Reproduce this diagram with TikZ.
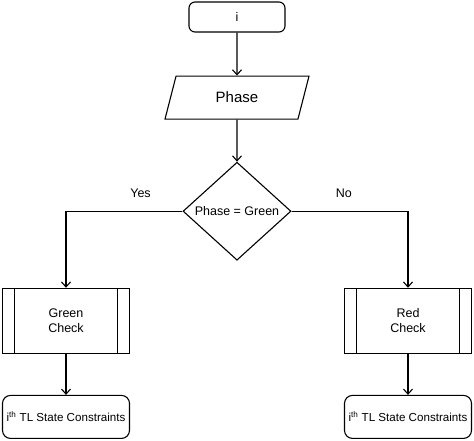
\documentclass[tikz,border=0pt]{standalone}
\usepackage{fontspec}
\setmainfont{Liberation Sans}
\usetikzlibrary{positioning,shapes.geometric,arrows.meta}

\begin{document}
\begin{tikzpicture}[
	font=\fontsize{12.5}{15}\selectfont,
	line width=1.1pt,
	startnode/.style={draw,rounded corners=6pt,minimum width=96pt,minimum height=30pt},
	ionode/.style={draw,trapezium,trapezium left angle=58,trapezium right angle=122,trapezium stretches body,minimum width=144pt,minimum height=43pt,font=\fontsize{15}{18}\selectfont},
	decnode/.style={draw,diamond,inner sep=0pt,minimum width=108pt,minimum height=98pt},
	procnode/.style={draw,minimum width=127pt,minimum height=65pt,align=center,
		path picture={\draw ([xshift=12pt]path picture bounding box.north west) -- ([xshift=12pt]path picture bounding box.south west)
			([xshift=-12pt]path picture bounding box.north east) -- ([xshift=-12pt]path picture bounding box.south east);}},
	endnode/.style={draw,rounded corners=8pt,minimum width=127pt,minimum height=43pt,font=\fontsize{11.6}{14}\selectfont}
	]
	\useasboundingbox (0,0) rectangle (474pt,-440pt);
	\node[startnode] (start) at (237pt,-17pt) {i};
	\node[ionode,below=43pt of start] (phase) {Phase};
	\node[decnode,below=42pt of phase] (decision) {Phase = Green};
	\node[procnode,below=27pt of decision,xshift=-171pt] (green) {Green\\Check};
	\node[procnode,below=27pt of decision,xshift=171pt] (red) {Red\\Check};
	\node[endnode,below=41pt of green] (greenend) {i\textsuperscript{th} TL State Constraints};
	\node[endnode,below=41pt of red] (redend) {i\textsuperscript{th} TL State Constraints};
	\path [-{Straight Barb[length=5pt,width=9pt]}]
	(start) edge (phase)
	(phase) edge (decision)
	(green) edge (greenend)
	(red) edge (redend);
	\draw [-{Straight Barb[length=5pt,width=9pt]}] (decision.west) -| node[pos=0.18,above=10pt] {Yes} (green);
	\draw [-{Straight Barb[length=5pt,width=9pt]}] (decision.east) -| node[pos=0.225,above=10pt] {No} (red);
\end{tikzpicture}
\end{document}
